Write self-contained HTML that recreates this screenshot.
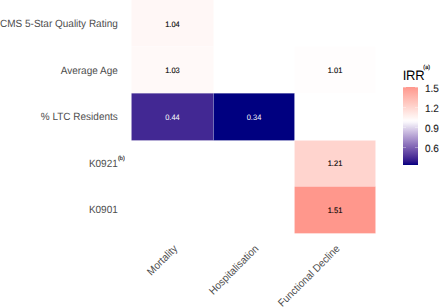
<!DOCTYPE html><html><head><meta charset="utf-8"><style>
html,body{margin:0;padding:0;width:440px;height:308px;overflow:hidden;background:#fff;}
body{position:relative;font-family:"Liberation Sans",sans-serif;text-rendering:geometricPrecision;}
.a{position:absolute;white-space:nowrap;}
</style></head><body>
<svg class="a" style="left:0;top:0" width="440" height="308" viewBox="0 0 440 308"><rect x="131.45" y="0.00" width="82.10" height="46.60" fill="#fff7f6" stroke="#fff" stroke-opacity="0.3" stroke-width="0.5"/><rect x="131.45" y="46.60" width="82.10" height="46.65" fill="#fff9f8" stroke="#fff" stroke-opacity="0.3" stroke-width="0.5"/><rect x="294.50" y="46.60" width="81.05" height="46.65" fill="#fffdfd" stroke="#fff" stroke-opacity="0.3" stroke-width="0.5"/><rect x="131.45" y="93.25" width="82.10" height="47.20" fill="#422893" stroke="#fff" stroke-opacity="0.3" stroke-width="0.5"/><rect x="213.55" y="93.25" width="80.95" height="47.20" fill="#000080" stroke="#fff" stroke-opacity="0.3" stroke-width="0.5"/><rect x="294.50" y="140.45" width="81.05" height="46.00" fill="#ffd4ce" stroke="#fff" stroke-opacity="0.3" stroke-width="0.5"/><rect x="294.50" y="186.45" width="81.05" height="46.95" fill="#ff978c" stroke="#fff" stroke-opacity="0.3" stroke-width="0.5"/></svg>
<div class="a" style="left:72.50px;width:200px;text-align:center;top:21px;line-height:7.5px;font-size:7.5px;color:#000000;transform-origin:50% 84.65%;transform:scaleY(1.05);-webkit-text-stroke:0.1px currentColor;">1.04</div>
<div class="a" style="left:72.50px;width:200px;text-align:center;top:67px;line-height:7.5px;font-size:7.5px;color:#000000;transform-origin:50% 84.65%;transform:scaleY(1.05);-webkit-text-stroke:0.1px currentColor;">1.03</div>
<div class="a" style="left:235.02px;width:200px;text-align:center;top:67px;line-height:7.5px;font-size:7.5px;color:#000000;transform-origin:50% 84.65%;transform:scaleY(1.05);-webkit-text-stroke:0.1px currentColor;">1.01</div>
<div class="a" style="left:72.50px;width:200px;text-align:center;top:114px;line-height:7.5px;font-size:7.5px;color:#FFFFFF;transform-origin:50% 84.65%;transform:scaleY(1.05);">0.44</div>
<div class="a" style="left:154.03px;width:200px;text-align:center;top:114px;line-height:7.5px;font-size:7.5px;color:#FFFFFF;transform-origin:50% 84.65%;transform:scaleY(1.05);">0.34</div>
<div class="a" style="left:235.02px;width:200px;text-align:center;top:160px;line-height:7.5px;font-size:7.5px;color:#000000;transform-origin:50% 84.65%;transform:scaleY(1.05);-webkit-text-stroke:0.1px currentColor;">1.21</div>
<div class="a" style="left:235.02px;width:200px;text-align:center;top:207px;line-height:7.5px;font-size:7.5px;color:#000000;transform-origin:50% 84.65%;transform:scaleY(1.05);-webkit-text-stroke:0.1px currentColor;">1.51</div>
<div class="a" style="right:322.20px;top:20px;line-height:10px;font-size:10px;color:#4D4D4D;transform-origin:50% 84.65%;transform:scaleY(1.05);">CMS 5-Star Quality Rating</div>
<div class="a" style="right:322.20px;top:67px;line-height:10px;font-size:10px;color:#4D4D4D;transform-origin:50% 84.65%;transform:scaleY(1.05);">Average Age</div>
<div class="a" style="right:322.20px;top:113px;line-height:10px;font-size:10px;color:#4D4D4D;transform-origin:50% 84.65%;transform:scaleY(1.05);">% LTC Residents</div>
<div class="a" style="right:322.20px;top:160px;line-height:10px;font-size:10px;color:#4D4D4D;transform-origin:50% 84.65%;transform:scaleY(1.05);">K0921</div>
<div class="a" style="right:322.20px;top:206px;line-height:10px;font-size:10px;color:#4D4D4D;transform-origin:50% 84.65%;transform:scaleY(1.05);">K0901</div>
<div class="a" style="left:118.00px;top:157px;line-height:5.5px;font-size:5.5px;color:#333;transform-origin:50% 84.65%;transform:scaleY(1.05);-webkit-text-stroke:0.2px currentColor;">(b)</div>
<div class="a" style="right:267.70px;top:244.10px;line-height:10px;font-size:10px;color:#4D4D4D;transform-origin:100% 0;transform:rotate(-45deg) scaleY(1.05)">Mortality</div>
<div class="a" style="right:186.17px;top:244.10px;line-height:10px;font-size:10px;color:#4D4D4D;transform-origin:100% 0;transform:rotate(-45deg) scaleY(1.05)">Hospitalisation</div>
<div class="a" style="right:105.18px;top:244.10px;line-height:10px;font-size:10px;color:#4D4D4D;transform-origin:100% 0;transform:rotate(-45deg) scaleY(1.05)">Functional Decline</div>
<div class="a" style="left:402.6px;top:87.0px;width:15.5px;height:78.0px;background:linear-gradient(to bottom,#ff978c 0.0%,#ff9d93 2.5%,#ffa399 5.0%,#ffa99f 7.5%,#ffafa6 10.0%,#ffb5ac 12.5%,#ffbbb2 15.0%,#ffc1b9 17.5%,#ffc7bf 20.0%,#ffcdc6 22.5%,#ffd3cd 25.0%,#ffd9d3 27.5%,#ffdfda 30.0%,#ffe5e1 32.5%,#ffebe8 35.0%,#fff1ee 37.5%,#fff6f5 40.0%,#fffcfc 42.5%,#faf8fc 45.0%,#f0ecf6 47.5%,#e7e0f1 50.0%,#ddd4eb 52.5%,#d4c8e6 55.0%,#cbbce0 57.5%,#c1b1da 60.0%,#b8a5d5 62.5%,#ae9acf 65.0%,#a58fca 67.5%,#9b83c4 70.0%,#9178be 72.5%,#886db9 75.0%,#7e63b3 77.5%,#7458ad 80.0%,#6a4da8 82.5%,#5f43a2 85.0%,#55389c 87.5%,#492e97 90.0%,#3d2391 92.5%,#2f198b 95.0%,#1e0c86 97.5%,#000080 100.0%)"></div>
<div class="a" style="left:402.6px;top:87.17px;width:3.10px;height:1px;background:rgba(255,255,255,0.35)"></div>
<div class="a" style="left:415.00px;top:87.17px;width:3.10px;height:1px;background:rgba(255,255,255,0.35)"></div>
<div class="a" style="left:425.00px;top:85px;line-height:10px;font-size:10px;color:#1A1A1A;transform-origin:50% 84.65%;transform:scaleY(1.05);-webkit-text-stroke:0.1px currentColor;">1.5</div>
<div class="a" style="left:402.6px;top:107.17px;width:3.10px;height:1px;background:rgba(255,255,255,0.35)"></div>
<div class="a" style="left:415.00px;top:107.17px;width:3.10px;height:1px;background:rgba(255,255,255,0.35)"></div>
<div class="a" style="left:425.00px;top:105px;line-height:10px;font-size:10px;color:#1A1A1A;transform-origin:50% 84.65%;transform:scaleY(1.05);-webkit-text-stroke:0.1px currentColor;">1.2</div>
<div class="a" style="left:402.6px;top:127.17px;width:3.10px;height:1px;background:rgba(255,255,255,0.35)"></div>
<div class="a" style="left:415.00px;top:127.17px;width:3.10px;height:1px;background:rgba(255,255,255,0.35)"></div>
<div class="a" style="left:425.00px;top:125px;line-height:10px;font-size:10px;color:#1A1A1A;transform-origin:50% 84.65%;transform:scaleY(1.05);-webkit-text-stroke:0.1px currentColor;">0.9</div>
<div class="a" style="left:402.6px;top:147.17px;width:3.10px;height:1px;background:rgba(255,255,255,0.35)"></div>
<div class="a" style="left:415.00px;top:147.17px;width:3.10px;height:1px;background:rgba(255,255,255,0.35)"></div>
<div class="a" style="left:425.00px;top:145px;line-height:10px;font-size:10px;color:#1A1A1A;transform-origin:50% 84.65%;transform:scaleY(1.05);-webkit-text-stroke:0.1px currentColor;">0.6</div>
<div class="a" style="left:402.70px;top:69px;line-height:13px;font-size:13px;color:#000;transform-origin:50% 84.65%;transform:scaleY(1.05);letter-spacing:-0.25px;">IRR</div>
<div class="a" style="left:423.30px;top:66px;line-height:5.5px;font-size:5.5px;color:#000;transform-origin:50% 84.65%;transform:scaleY(1.05);-webkit-text-stroke:0.15px #000;">(a)</div>
</body></html>
